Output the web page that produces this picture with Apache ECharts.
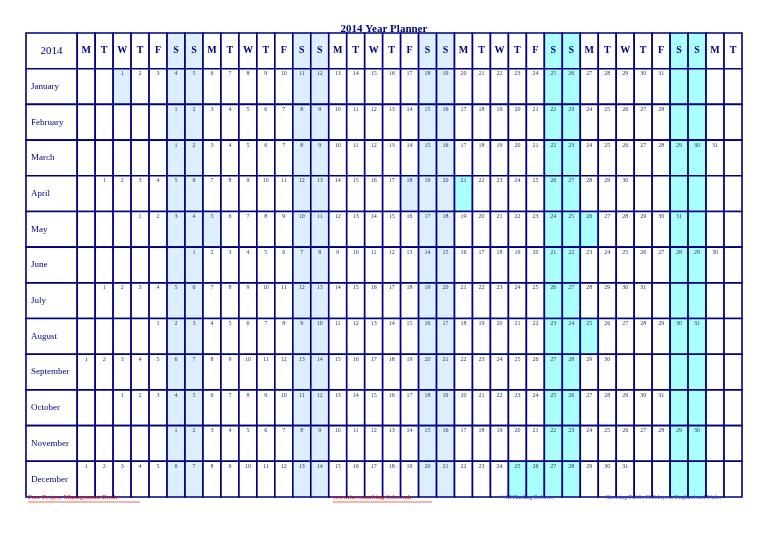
<!DOCTYPE html>
<html><head><meta charset="utf-8">
<script src="https://cdn.jsdelivr.net/npm/echarts@6/dist/echarts.min.js"></script>
<style>html,body{margin:0;padding:0;background:#fff}#c{width:768px;height:543px}</style>
</head><body><div id="c"></div>
<script>
const year = '2014';
const months = ['January','February','March','April','May','June','July','August','September','October','November','December'];
const startOffsets = [2,5,5,1,3,6,1,4,0,2,5,0];
const monthDays = [31,28,31,30,31,30,31,31,30,31,30,31];
const dayLetters = ['M','T','W','T','F','S','S'];
const weekendLight = [5,6,12,13,19,20];
const weekendCyan = [26,27,33,34];
const holidaysLight = [[0,1],[3,18],[4,5]];
const holidaysCyan = [[3,21],[4,26],[7,25],[11,25],[11,26]];
const NCOL = 37;
const LIGHT = '#ddeeff', CYAN = '#aaffff', NAVY = '#000080';

const data = [];
data.push([-2.85, 0, 0, year, '#fff', 'corner']);
for (let c = 0; c < NCOL; c++) {
  let f = weekendLight.includes(c) ? LIGHT : weekendCyan.includes(c) ? CYAN : '#fff';
  data.push([c, c + 1, 0, dayLetters[c % 7], f, 'head']);
}
months.forEach((m, r) => {
  data.push([-2.85, 0, r + 1, m, '#fff', 'month']);
  for (let c = 0; c < NCOL; c++) {
    const d = c - startOffsets[r] + 1;
    let txt = (d >= 1 && d <= monthDays[r]) ? String(d) : '';
    let f = weekendLight.includes(c) ? LIGHT : weekendCyan.includes(c) ? CYAN : '#fff';
    if (holidaysLight.some(h => h[0] === r && h[1] === d)) f = LIGHT;
    if (holidaysCyan.some(h => h[0] === r && h[1] === d)) f = CYAN;
    data.push([c, c + 1, r + 1, txt, f, 'day']);
  }
});

function foot(text, x, color, size) {
  return { type: 'text', x: x, y: 494, z: 100,
    style: { text: text, fill: color, fontSize: size, fontFamily: 'Liberation Serif' } };
}
const chart = echarts.init(document.getElementById('c'));
chart.setOption({
  animation: false,
  title: { text: '2014 Year Planner', left: 'center', top: 19,
    textStyle: { fontFamily: 'Liberation Serif', fontSize: 11, fontWeight: 'bold', color: NAVY } },
  grid: { left: 26, right: 26, top: 33, bottom: 46 },
  xAxis: { type: 'value', min: -2.85, max: NCOL, show: false },
  yAxis: { type: 'value', min: 0, max: 13, inverse: true, show: false },
  graphic: [
    foot('Free Project Management Book', 28, '#e00', 7),
    { type: 'line', z: 100, shape: { x1: 28, y1: 502, x2: 140, y2: 502 }, style: { stroke: '#e00', lineWidth: 0.6 } },
    foot('www.hrconsulting-ltd.co.uk', 333, '#e00', 7),
    { type: 'line', z: 100, shape: { x1: 333, y1: 502, x2: 432, y2: 502 }, style: { stroke: '#e00', lineWidth: 0.6 } },
    foot('© M Harding Roberts', 500, '#3344cc', 6),
    foot('Showing Public Holidays in England and Wales', 606, '#3344cc', 6)
  ],
  series: [{
    type: 'custom',
    clip: false,
    data: data,
    renderItem: function (params, api) {
      const p0 = api.coord([api.value(0), api.value(2)]);
      const p1 = api.coord([api.value(1), api.value(2) + 1]);
      const kind = data[params.dataIndex][5];
      const txt = data[params.dataIndex][3];
      const w = p1[0] - p0[0], h = p1[1] - p0[1];
      const children = [{
        type: 'rect', shape: { x: p0[0], y: p0[1], width: w, height: h },
        style: { fill: data[params.dataIndex][4], stroke: NAVY, lineWidth: 1.6 }
      }];
      let ts;
      if (kind === 'head') ts = { x: p0[0] + w / 2, y: p0[1] + h / 2, text: txt, align: 'center', verticalAlign: 'middle', fontSize: 10, fontWeight: 'bold', fontFamily: 'Liberation Serif', fill: NAVY };
      else if (kind === 'corner') ts = { x: p0[0] + w / 2, y: p0[1] + h / 2, text: txt, align: 'center', verticalAlign: 'middle', fontSize: 11, fontFamily: 'Liberation Serif', fill: NAVY };
      else if (kind === 'month') ts = { x: p0[0] + 5, y: p0[1] + h / 2, text: txt, align: 'left', verticalAlign: 'middle', fontSize: 9, fontFamily: 'Liberation Serif', fill: NAVY };
      else ts = { x: p0[0] + w / 2, y: p0[1] + 2, text: txt, align: 'center', verticalAlign: 'top', fontSize: 6, fontFamily: 'Liberation Serif', fill: '#333366' };
      children.push({ type: 'text', style: ts });
      return { type: 'group', children: children };
    }
  }]
});
</script></body></html>
